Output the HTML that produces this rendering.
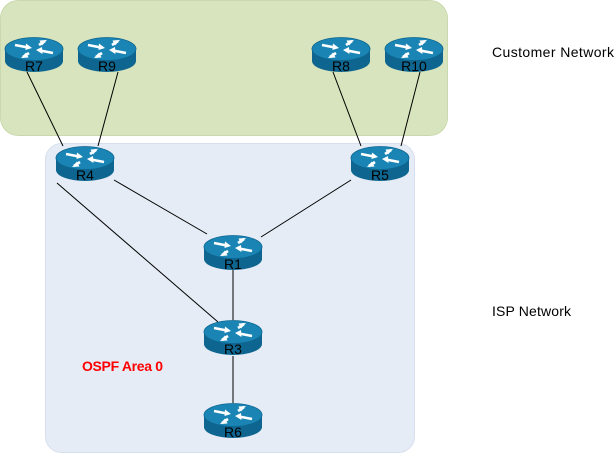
<!DOCTYPE html>
<html><head><meta charset="utf-8"><style>
body{margin:0;background:#fff;width:616px;height:461px;overflow:hidden}
svg{display:block}
text{font-family:"Liberation Sans",sans-serif}
</style></head><body>
<svg width="616" height="461" viewBox="0 0 616 461">
<defs>
<g id="rt">
<path d="M0,12 L0,24 A29,11 0 0 0 58,24 L58,12 Z" fill="#0e6690"/>
<ellipse cx="29" cy="12" rx="29" ry="11.5" fill="#1a85b4" stroke="#0e6690" stroke-width="0.8"/>
<g stroke="#fff" stroke-width="2.6" fill="#fff">
<line x1="10" y1="8" x2="23" y2="10.5"/><polygon points="27,11 21,6.5 20.5,13" stroke="none"/>
<line x1="48" y1="16" x2="35" y2="13.5"/><polygon points="31,13 37,10 37.5,17" stroke="none"/>
<line x1="40" y1="4" x2="34" y2="8"/><polygon points="42,3 34.5,3.5 37,8.5" stroke="none"/>
<line x1="18" y1="20" x2="24" y2="16"/><polygon points="16,21 23.5,20.5 21,15.5" stroke="none"/>
</g>
</g>
</defs>
<rect x="0.5" y="0.5" width="447" height="135" rx="18" fill="#d7e4bd" stroke="#c9d9ad"/>
<rect x="45.5" y="143.5" width="369" height="309" rx="16" fill="#e6ecf6" stroke="#d7dfee"/>
<g stroke="#000" stroke-width="1">
<line x1="27" y1="72" x2="63" y2="146"/>
<line x1="118" y1="72" x2="98" y2="146"/>
<line x1="333" y1="72" x2="361" y2="146"/>
<line x1="420" y1="72" x2="401" y2="146"/>
<line x1="114" y1="180" x2="207" y2="234"/>
<line x1="351" y1="180" x2="261" y2="237"/>
<line x1="57" y1="183" x2="218" y2="322"/>
<line x1="233" y1="270" x2="233" y2="320"/>
<line x1="233" y1="356" x2="233" y2="403"/>
</g>
<use href="#rt" x="5" y="37"/><use href="#rt" x="78" y="37"/>
<use href="#rt" x="312" y="37"/><use href="#rt" x="385" y="37"/>
<use href="#rt" x="56" y="146"/><use href="#rt" x="351" y="146"/>
<use href="#rt" x="204" y="235"/><use href="#rt" x="204" y="320"/>
<use href="#rt" x="204" y="403"/>
<g font-size="14" text-anchor="middle" fill="#000">
<text x="34" y="71">R7</text><text x="107" y="71">R9</text>
<text x="341" y="71">R8</text><text x="414" y="71">R10</text>
<text x="85" y="180">R4</text><text x="380" y="180">R5</text>
<text x="233" y="269">R1</text><text x="233" y="354">R3</text>
<text x="233" y="437">R6</text>
</g>
<text x="492" y="57" font-size="14" textLength="122">Customer Network</text>
<text x="492" y="316" font-size="14" textLength="79">ISP Network</text>
<text x="82" y="371" font-size="14" font-weight="bold" fill="#ff0000" textLength="81">OSPF Area 0</text>
</svg>
</body></html>
